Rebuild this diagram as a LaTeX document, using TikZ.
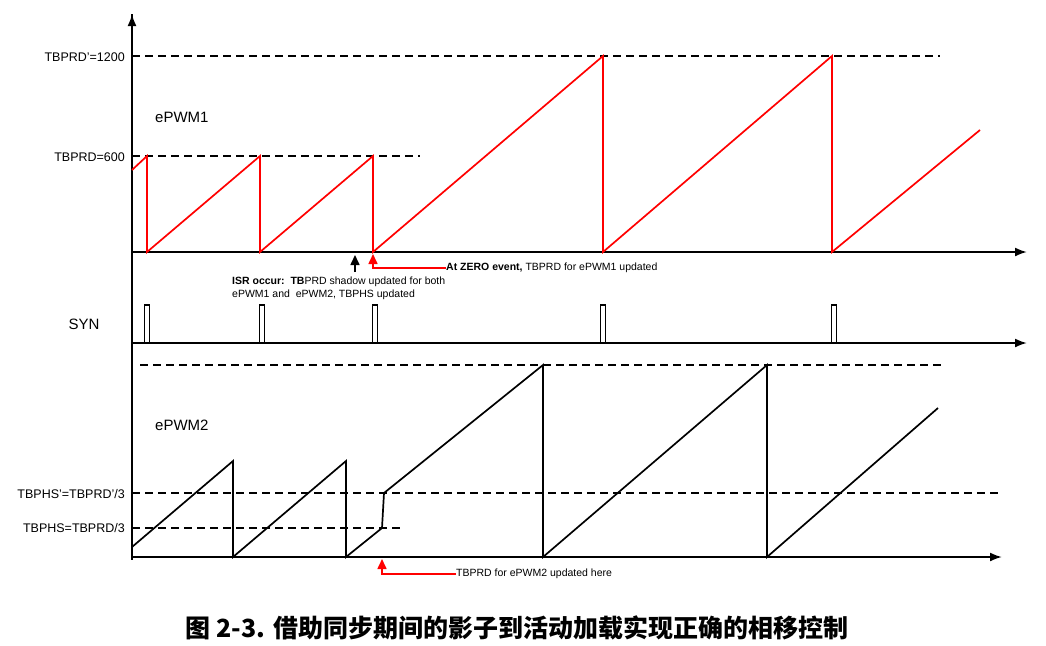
\documentclass[tikz,border=0pt]{standalone}
\usepackage{fontspec}
\setmainfont{Liberation Sans}
\newfontfamily\cjk{Noto Sans CJK SC}
\usetikzlibrary{arrows.meta}
\begin{document}
\begin{tikzpicture}[x=1pt,y=-1pt,
  ax/.style={line width=2pt,-{Latex[length=12pt,width=9pt]}},
  dsh/.style={line width=1.6pt,dash pattern=on 8pt off 5pt},
  redw/.style={red,line width=1.7pt},
  blkw/.style={black,line width=1.7pt},
  lbl/.style={font=\fontsize{12.5}{14}\selectfont,inner sep=0pt},
  sml/.style={font=\fontsize{10.5}{12}\selectfont,inner sep=0pt,anchor=west}]
\useasboundingbox (0,0) rectangle (1046,645);
% axes
\coordinate (o1) at (132,252);
\coordinate (ytop) at (132,14);
\coordinate (ybot) at (132,560);
\draw[line width=2pt] (ytop) -- (ybot);
\draw[ax] (132,40) -- (ytop);
\coordinate (x1e) at (1027,252);
\draw[ax] (o1) -- (x1e);
\coordinate (o2) at (132,343);
\coordinate (x2e) at (1027,343);
\draw[ax] (o2) -- (x2e);
\coordinate (o3) at (132,557);
\coordinate (x3e) at (1002,557);
\draw[ax] (o3) -- (x3e);
% dashed levels
\draw[dsh] (132,56) -- (940,56);
\draw[dsh] (132,156) -- (420,156);
\draw[dsh] (140,365) -- (945,365);
\draw[dsh] (132,493) -- (1000,493);
\draw[dsh] (132,528) -- (403,528);
% labels
\node[lbl,anchor=east] (l1) at (125,57) {TBPRD’=1200};
\node[lbl,anchor=east] (l2) at (125,157) {TBPRD=600};
\node[lbl,anchor=east] (l3) at (125,494) {TBPHS’=TBPRD’/3};
\node[lbl,anchor=east] (l4) at (125,528) {TBPHS=TBPRD/3};
\node[lbl,anchor=west,font=\fontsize{15}{17}\selectfont] (e1) at (155,117) {ePWM1};
\node[lbl,anchor=west,font=\fontsize{15}{17}\selectfont] (e2) at (155,425) {ePWM2};
\node[lbl,font=\fontsize{15}{17}\selectfont] (syn) at (84,324) {SYN};
% red ramp
\draw[redw] (132,170) -- (147,156) -- (147,252) -- (260,156) -- (260,252) -- (373,156) -- (373,252)
  -- (603,56) -- (603,252) -- (832,56) -- (832,252) -- (980,130);
% black ramp
\draw[blkw] (132,547) -- (233,461) -- (233,557) -- (346,461) -- (346,557) -- (382,528) -- (384,493)
  -- (543,365) -- (543,557) -- (767,365) -- (767,557) -- (938,408);
% sync pulses
\foreach \p in {147,262,375,603,834}
  \draw[line width=1.1pt] (\p-2.5,343) -- (\p-2.5,305) -- (\p+2.5,305) -- (\p+2.5,343);
% annotations
\coordinate (isr) at (355,255);
\draw[line width=1.6pt,-{Triangle[length=10pt,width=9pt]}] (355,272) -- (isr);
\node[sml] (isrt) at (232,282) {\textbf{ISR occur:}\ \ \textbf{TB}PRD shadow updated for both};
\node[sml] (isrt2) at (232,295) {ePWM1 and\ \ ePWM2, TBPHS updated};
\node[sml] (zt) at (446,268) {\textbf{At ZERO event,} TBPRD for ePWM1 updated};
\coordinate (za) at (373,254);
\draw[red,line width=1.6pt,-{Triangle[length=10pt,width=9pt]}] (zt.west) -| (za);
\node[sml] (pt) at (456,574) {TBPRD for ePWM2 updated here};
\coordinate (pa) at (382,559);
\draw[red,line width=1.6pt,-{Triangle[length=10pt,width=9pt]}] (pt.west) -| (pa);
% caption
\node[inner sep=0pt,font=\fontsize{25}{28}\selectfont\bfseries] (cap) at (517,628) {\cjk 图 \textbf{2-3.} 借助同步期间的影子到活动加载实现正确的相移控制};
\end{tikzpicture}
\end{document}
